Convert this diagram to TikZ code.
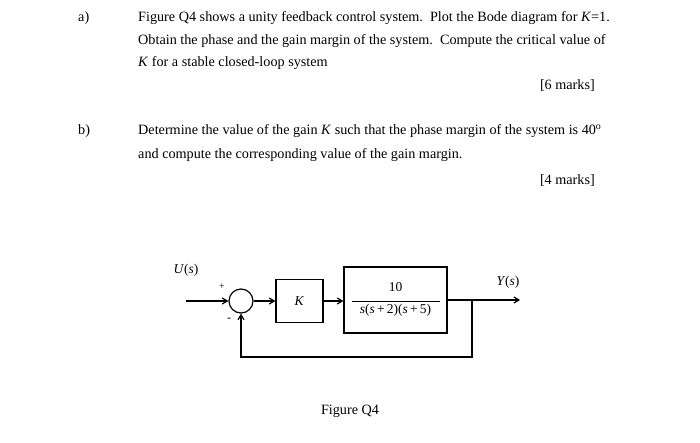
\documentclass[tikz,border=0pt]{standalone}
\usepackage{fontspec}
\setmainfont{Liberation Serif}
\usetikzlibrary{arrows.meta}
\begin{document}
\begin{tikzpicture}[x=1pt,y=-1pt,
  txt/.style={anchor=west,inner sep=0pt,font=\fontsize{14.2}{16}\selectfont},
  lbl/.style={inner sep=0pt,font=\fontsize{13.5}{15}\selectfont},
  blk/.style={draw,line width=1.2pt,minimum width=#1,inner sep=0pt},
  ln/.style={line width=1.2pt},
  arr/.style={ln,-{Straight Barb[length=5pt,width=6pt]}}]
\useasboundingbox (0,0) rectangle (700,443);
\fill[white] (0,0) rectangle (700,443);
\node[txt] (qa) at (78,18) {a)};
\node[txt] (a1) at (138,18) {Figure Q4 shows a unity feedback control system.\ \ Plot the Bode diagram for \textit{K}=1.};
\node[txt] (a2) at (138,41) {Obtain the phase and the gain margin of the system.\ \ Compute the critical value of};
\node[txt] (a3) at (138,63) {\textit{K} for a stable closed-loop system};
\node[txt,anchor=east] (m6) at (595,86) {[6 marks]};
\node[txt] (qb) at (78,131) {b)};
\node[txt] (b1) at (138,131) {Determine the value of the gain \textit{K} such that the phase margin of the system is 40\textsuperscript{o}};
\node[txt] (b2) at (138,155) {and compute the corresponding value of the gain margin.};
\node[txt,anchor=east] (m4) at (595,181) {[4 marks]};
\node[txt,anchor=center] (fig) at (350,411) {Figure Q4};

\node[draw,circle,ln,minimum size=24pt,inner sep=0pt] (sum) at (241,301) {};
\node[blk=47pt,minimum height=43pt,anchor=center,lbl] (K) at (299.5,301) {\textit{K}};
\node[blk=103pt,minimum height=66pt,anchor=center] (G) at (395.5,300)
  {\begin{tabular}{@{}c@{}}\fontsize{13.5}{15}\selectfont 10\\[-2pt]\rule{88pt}{0.8pt}\\[-1pt]\fontsize{13.5}{15}\selectfont\textit{s}(\textit{s}\,+\,2)(\textit{s}\,+\,5)\end{tabular}};
\coordinate (in) at (186,301);
\coordinate (out) at (520,300);
\coordinate (tap) at (472,300);
\coordinate (bot) at (472,357);
\coordinate (bl) at (241,357);
\draw[arr] (in) -- (sum.west);
\draw[arr] (sum.east) -- (K.west);
\draw[arr] (K.east) -- (G.west |- K.east);
\draw[arr] (G.east |- out) -- (out);
\draw[arr] (tap) -- (bot) -- (bl) -- (sum.south);
\node[lbl] (u) at (186,270) {\textit{U}(\textit{s})};
\node[lbl] (y) at (508,282) {\textit{Y}(\textit{s})};
\node[lbl,font=\fontsize{10}{10}\selectfont] (p) at (222,287) {+};
\node[lbl,font=\fontsize{12}{10}\selectfont] (m) at (229,320) {-};
\end{tikzpicture}
\end{document}
